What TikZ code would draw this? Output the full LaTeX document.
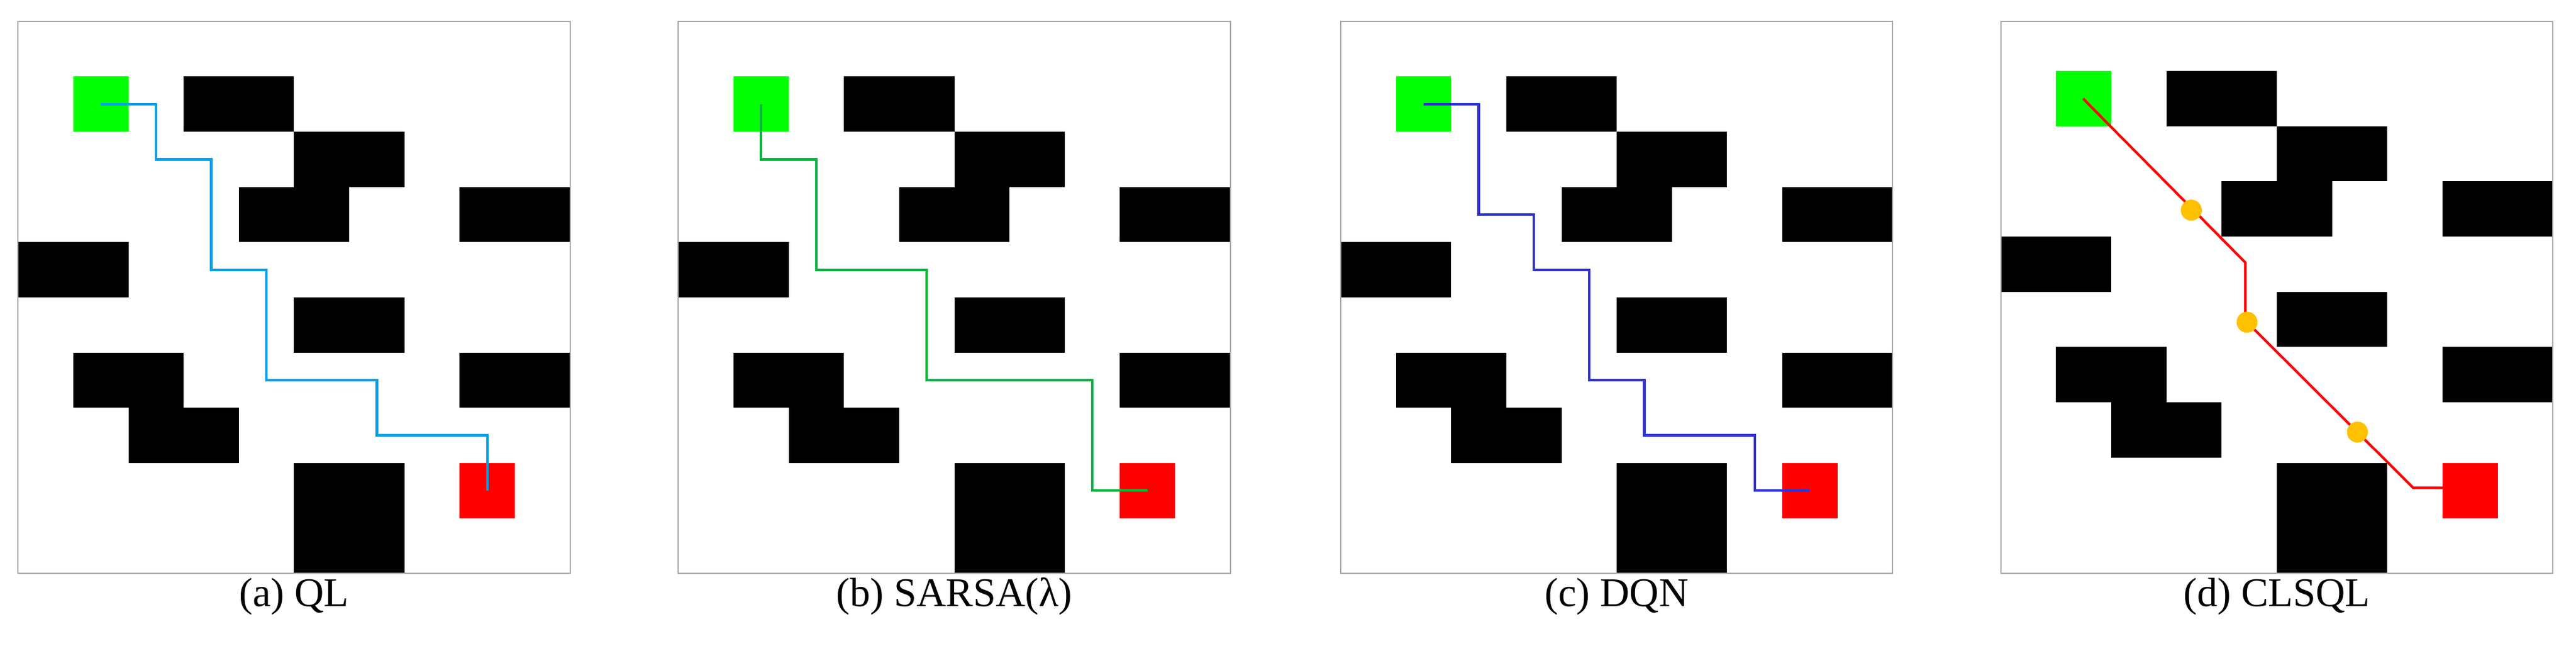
\documentclass[tikz,border=0pt]{standalone}
\usepackage{fontspec}
\setmainfont{Liberation Serif}
\begin{document}
\begin{tikzpicture}[x=1cm,y=-1cm,
  frame/.style={draw=black!35,line width=0.6pt},
  blk/.style={fill=black},
  trail/.style={line width=1.3pt,line join=miter},
  captxt/.style={font=\fontsize{21}{24}\selectfont,anchor=center}]
\useasboundingbox (0,-0.387) rectangle (46.67,11.31);
\newcommand{\myblocks}[1]{%
  \begin{scope}[yshift=#1cm]
  \fill[blk] (3,1) rectangle (5,2);
  \fill[blk] (5,2) rectangle (7,3);
  \fill[blk] (4,3) rectangle (6,4);
  \fill[blk] (8,3) rectangle (10,4);
  \fill[blk] (0,4) rectangle (2,5);
  \fill[blk] (5,5) rectangle (7,6);
  \fill[blk] (1,6) rectangle (3,7);
  \fill[blk] (8,6) rectangle (10,7);
  \fill[blk] (2,7) rectangle (4,8);
  \fill[fill={rgb,255:red,0;green,255;blue,0}] (1,1) rectangle (2,2);
  \end{scope}
  \fill[blk] (5,8) rectangle (7,10);
  \fill[red] (8,8) rectangle (9,9);
  \draw[frame] (0,0) rectangle (10,10);}
% (a)
\begin{scope}[xshift=0.327cm]
\myblocks{0}
\draw[trail,color={rgb,255:red,0;green,160;blue,232}] (1.5,1.5)-|(2.5,2.5)-|(3.5,4.5)-|(4.5,6.5)-|(6.5,7.5)-|(8.5,8.5);
\node[captxt] (ca) at (5,10.42) {(a) QL};
\end{scope}
% (b)
\begin{scope}[xshift=12.29cm]
\myblocks{0}
\draw[trail,color={rgb,255:red,0;green,180;blue,60}] (1.5,1.5)|-(2.5,2.5)|-(4.5,4.5)|-(7.5,6.5)|-(8.5,8.5);
\node[captxt] (cb) at (5,10.42) {(b) SARSA(λ)};
\end{scope}
% (c)
\begin{scope}[xshift=24.29cm]
\myblocks{0}
\draw[trail,color={rgb,255:red,50;green,50;blue,210}] (1.5,1.5)-|(2.5,3.5)-|(3.5,4.5)-|(4.5,6.5)-|(5.5,7.5)-|(7.5,8.5)--(8.5,8.5);
\node[captxt] (cc) at (5,10.42) {(c) DQN};
\end{scope}
% (d)
\begin{scope}[xshift=36.25cm]
\myblocks{0.1}
\draw[trail,red] (1.49,1.4)--(4.43,4.37)--(4.43,5.42)--(7.47,8.45)--(8.45,8.45);
\foreach \p in {(3.45,3.42),(4.46,5.45),(6.46,7.44)}
  \fill[color={rgb,255:red,255;green,192;blue,0}] \p circle (0.19);
\node[captxt] (cd) at (5,10.42) {(d) CLSQL};
\end{scope}
\end{tikzpicture}
\end{document}
